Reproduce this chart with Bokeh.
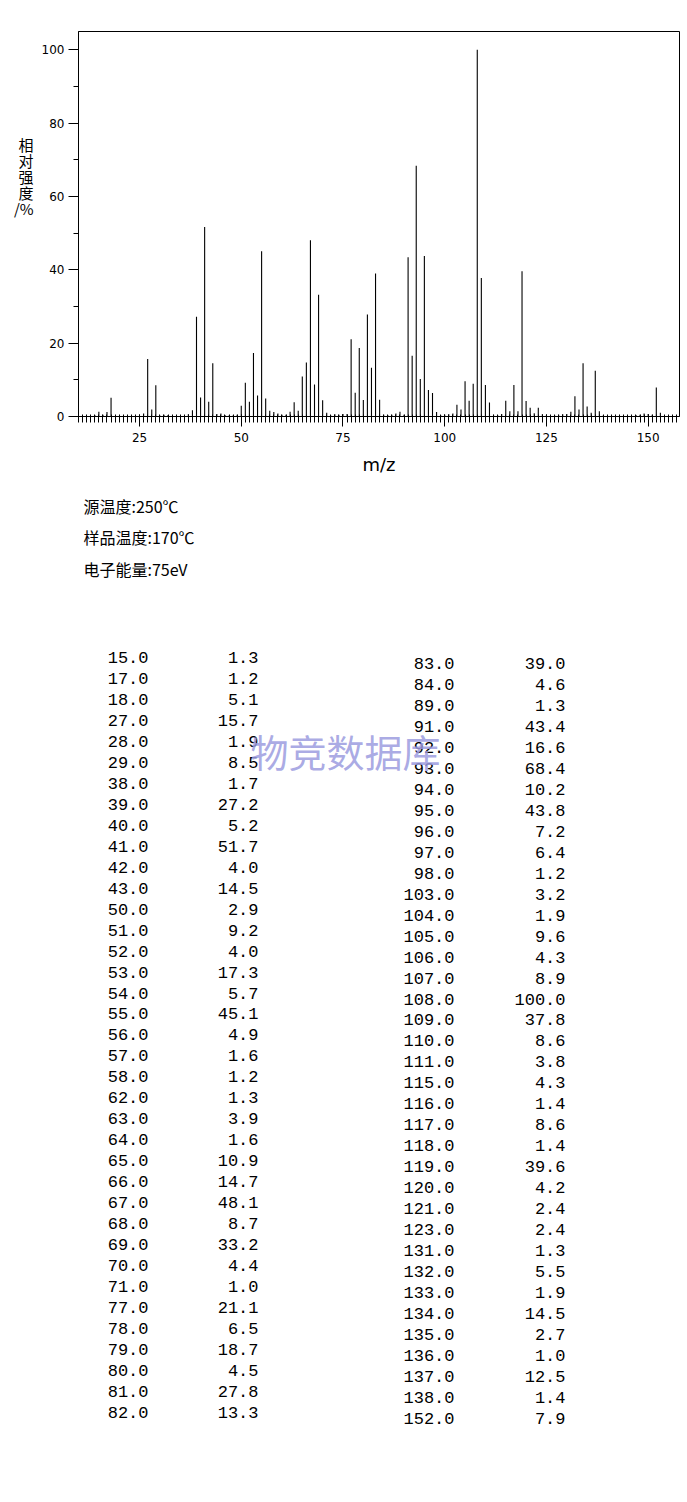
from bokeh.plotting import figure
from bokeh.models import ColumnDataSource, Range1d, SingleIntervalTicker
from bokeh.layouts import column
from bokeh.embed import file_html
from bokeh.resources import INLINE
from bokeh.core.properties import value

# ---- data: tabulated peaks (m/z, relative intensity %) ----
table_mz = [15.0, 17.0, 18.0, 27.0, 28.0, 29.0, 38.0, 39.0, 40.0, 41.0, 42.0, 43.0,
            50.0, 51.0, 52.0, 53.0, 54.0, 55.0, 56.0, 57.0, 58.0, 62.0, 63.0, 64.0,
            65.0, 66.0, 67.0, 68.0, 69.0, 70.0, 71.0, 77.0, 78.0, 79.0, 80.0, 81.0,
            82.0, 83.0, 84.0, 89.0, 91.0, 92.0, 93.0, 94.0, 95.0, 96.0, 97.0, 98.0,
            103.0, 104.0, 105.0, 106.0, 107.0, 108.0, 109.0, 110.0, 111.0, 115.0,
            116.0, 117.0, 118.0, 119.0, 120.0, 121.0, 123.0, 131.0, 132.0, 133.0,
            134.0, 135.0, 136.0, 137.0, 138.0, 152.0]
table_int = [1.3, 1.2, 5.1, 15.7, 1.9, 8.5, 1.7, 27.2, 5.2, 51.7, 4.0, 14.5,
             2.9, 9.2, 4.0, 17.3, 5.7, 45.1, 4.9, 1.6, 1.2, 1.3, 3.9, 1.6,
             10.9, 14.7, 48.1, 8.7, 33.2, 4.4, 1.0, 21.1, 6.5, 18.7, 4.5, 27.8,
             13.3, 39.0, 4.6, 1.3, 43.4, 16.6, 68.4, 10.2, 43.8, 7.2, 6.4, 1.2,
             3.2, 1.9, 9.6, 4.3, 8.9, 100.0, 37.8, 8.6, 3.8, 4.3,
             1.4, 8.6, 1.4, 39.6, 4.2, 2.4, 2.4, 1.3, 5.5, 1.9,
             14.5, 2.7, 1.0, 12.5, 1.4, 7.9]

# small (<1 %) peaks visible in the spectrum but not tabulated (estimated)
small_mz = [14, 16, 26, 30, 31, 32, 37, 44, 45, 46, 47, 48, 49, 59, 60, 61,
            72, 73, 74, 75, 76, 85, 86, 87, 88, 90, 99, 100, 101, 102,
            112, 113, 114, 122, 124, 125, 126, 127, 128, 129, 130,
            139, 147, 148, 149, 150, 151, 153]
small_int = [0.4, 0.5, 0.8, 0.3, 0.5, 0.4, 0.6, 0.7, 0.8, 0.4, 0.3, 0.3, 0.5, 0.8, 0.5, 0.5,
             0.3, 0.6, 0.5, 0.7, 0.7, 0.5, 0.4, 0.5, 0.8, 0.5, 0.4, 0.5, 0.6, 0.8,
             0.5, 0.4, 0.7, 0.9, 0.6, 0.5, 0.3, 0.4, 0.5, 0.6, 0.7,
             0.4, 0.4, 0.5, 0.8, 0.7, 0.5, 1.0]

y_label = "相\n对\n强\n度\n/%"
x_label = "m/z"
info_lines = ["源温度:250℃", "样品温度:170℃", "电子能量:75eV"]
watermark = "物竞数据库"

# ---- spectrum figure ----
W = 682
H1 = 483
LEFT, RIGHT = 78, 3
p = figure(width=W, height=H1, output_backend="svg", toolbar_location=None,
           x_range=Range1d(10, 157.7), y_range=Range1d(0, 105),
           min_border_left=LEFT, min_border_right=RIGHT, min_border_top=31, min_border_bottom=67)
p.outline_line_color = "black"
p.outline_line_width = 1
p.xgrid.visible = False
p.ygrid.visible = False
p.background_fill_color = "white"
p.border_fill_color = "white"

all_mz = table_mz + small_mz
all_int = table_int + small_int
src = ColumnDataSource(dict(mz=all_mz, inten=all_int))
p.segment(x0="mz", y0=0, x1="mz", y1="inten", source=src, line_color="black", line_width=1.1)

xa = p.xaxis[0]
xa.ticker = SingleIntervalTicker(interval=25, num_minor_ticks=25)
xa.major_tick_out = 10
xa.major_tick_in = 2
xa.minor_tick_out = 6
xa.minor_tick_in = 2
xa.major_label_standoff = 6
xa.axis_label = x_label
xa.axis_label_text_font = "DejaVu Sans"
xa.axis_label_text_font_size = "18px"
xa.axis_label_text_font_style = "normal"
xa.axis_label_text_color = "black"
xa.axis_label_standoff = 9
xa.major_label_text_font = "DejaVu Sans"
xa.major_label_text_font_size = "12px"
xa.major_label_text_color = "black"
xa.axis_line_color = "black"

ya = p.yaxis[0]
ya.ticker = SingleIntervalTicker(interval=20, num_minor_ticks=2)
ya.major_tick_out = 10
ya.major_tick_in = 0
ya.minor_tick_out = 5
ya.minor_tick_in = 0
ya.major_label_standoff = 4
ya.major_label_text_font = "DejaVu Sans"
ya.major_label_text_font_size = "12px"
ya.major_label_text_color = "black"
ya.axis_line_color = "black"
ya.axis_label = y_label + "\n" * 6
ya.axis_label_orientation = "horizontal"
ya.axis_label_text_font = "Noto Sans CJK SC"
ya.axis_label_text_font_size = "15px"
ya.axis_label_text_font_style = "normal"
ya.axis_label_text_color = "black"
ya.axis_label_text_line_height = 0.76
ya.axis_label_standoff = 5

# ---- text / table figure (page pixel coordinates) ----
TOP = H1
H2 = 1015
q = figure(width=W, height=H2, output_backend="svg", toolbar_location=None,
           x_range=Range1d(LEFT, W - RIGHT), y_range=Range1d(TOP + H2, TOP),
           min_border_left=LEFT, min_border_right=RIGHT,
           min_border_top=0, min_border_bottom=0)
q.axis.visible = False
q.xgrid.visible = False
q.ygrid.visible = False
q.outline_line_color = None
q.background_fill_color = "white"
q.border_fill_color = "white"

info_y = [505, 536, 568]
q.text(x=[83] * len(info_lines), y=info_y, text=info_lines,
       text_font=value("Noto Sans CJK SC"), text_font_size="16px",
       text_align="left", text_baseline="middle", text_color="black")

n = 37
left_mz = table_mz[:n]
left_int = table_int[:n]
right_mz = table_mz[n:]
right_int = table_int[n:]
row_h = 20.97
ly = [657 + i * row_h for i in range(len(left_mz))]
ry = [663 + i * row_h for i in range(len(right_mz))]

mono = value("Liberation Mono")
q.text(x=[148] * len(ly), y=ly, text=["%.1f" % v for v in left_mz], text_font=mono,
       text_font_size="17px", text_align="right", text_baseline="middle", text_color="black")
q.text(x=[258] * len(ly), y=ly, text=["%.1f" % v for v in left_int], text_font=mono,
       text_font_size="17px", text_align="right", text_baseline="middle", text_color="black")
q.text(x=[454] * len(ry), y=ry, text=["%.1f" % v for v in right_mz], text_font=mono,
       text_font_size="17px", text_align="right", text_baseline="middle", text_color="black")
q.text(x=[565] * len(ry), y=ry, text=["%.1f" % v for v in right_int], text_font=mono,
       text_font_size="17px", text_align="right", text_baseline="middle", text_color="black")

q.text(x=[345], y=[750], text=[watermark], text_font=value("Noto Sans CJK SC"),
       text_font_size="38px", text_align="center", text_baseline="middle",
       text_color="#9c9ce0", text_alpha=0.85)

layout = column(p, q, spacing=0)
open("out.html", "w").write(file_html(layout, INLINE))
